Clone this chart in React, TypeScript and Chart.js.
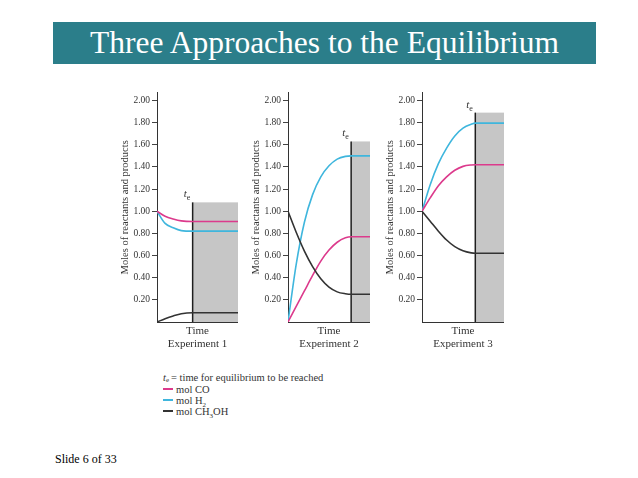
import React, { useEffect, useRef } from 'react';
import { Chart, registerables } from 'chart.js';

Chart.register(...registerables);

const PINK = '#dc3a8c';
const CYAN = '#3fb6dd';
const DARK = '#333333';
const SERIF = '"Liberation Serif", "Times New Roman", serif';

// y tick labels
const yTickValues = [0.2, 0.4, 0.6, 0.8, 1.0, 1.2, 1.4, 1.6, 1.8, 2.0];
const yMax = 2.07;
const timeMax = 10;

// Experiment 1
const exp1Time = [0, 1, 2, 3, 4.4, 10];
const exp1CO = [1.0, 0.955, 0.93, 0.913, 0.907, 0.907];
const exp1H2 = [1.0, 0.89, 0.85, 0.825, 0.82, 0.82];
const exp1CH3OH = [0.0, 0.03, 0.055, 0.075, 0.084, 0.084];
const exp1Te = 4.4;
const exp1ShadeTop = 1.08;

// Experiment 2
const exp2Time = [0, 1, 2, 3, 4, 5, 6, 7, 7.7, 10];
const exp2CO = [0.0, 0.14, 0.28, 0.42, 0.55, 0.65, 0.72, 0.76, 0.77, 0.77];
const exp2H2 = [0.0, 0.52, 0.9, 1.15, 1.31, 1.41, 1.47, 1.495, 1.5, 1.5];
const exp2CH3OH = [1.0, 0.81, 0.64, 0.5, 0.39, 0.315, 0.272, 0.255, 0.25, 0.25];
const exp2Te = 7.7;
const exp2ShadeTop = 1.63;

// Experiment 3
const exp3Time = [0, 1, 2, 3, 4, 5, 6, 6.5, 10];
const exp3CO = [1.0, 1.12, 1.23, 1.31, 1.37, 1.405, 1.418, 1.42, 1.42];
const exp3H2 = [1.0, 1.24, 1.43, 1.57, 1.68, 1.75, 1.785, 1.795, 1.795];
const exp3CH3OH = [1.0, 0.91, 0.82, 0.74, 0.68, 0.643, 0.624, 0.62, 0.62];
const exp3Te = 6.5;
const exp3ShadeTop = 1.89;

const equilPlugin = {
  id: 'equil',
  beforeDatasetsDraw(chart: any, _args: any, opts: any) {
    const { ctx, chartArea, scales } = chart;
    const x = scales.x;
    const y = scales.y;
    const xe = x.getPixelForValue(opts.te);
    const yt = y.getPixelForValue(opts.top);
    const yb = y.getPixelForValue(0);
    ctx.save();
    ctx.fillStyle = '#c6c6c6';
    ctx.fillRect(xe, yt, chartArea.right - xe, yb - yt);
    ctx.strokeStyle = '#1e1e1e';
    ctx.lineWidth = 1.5;
    ctx.beginPath();
    ctx.moveTo(xe, yt);
    ctx.lineTo(xe, yb);
    ctx.stroke();
    ctx.fillStyle = '#333';
    ctx.textAlign = 'left';
    ctx.textBaseline = 'alphabetic';
    ctx.font = 'italic 11px ' + SERIF;
    ctx.fillText('t', xe - 9, yt - 5);
    ctx.font = '8px ' + SERIF;
    ctx.fillText('e', xe - 6, yt - 2);
    ctx.restore();
  },
};

type PanelProps = {
  label: string;
  time: number[];
  co: number[];
  h2: number[];
  ch3oh: number[];
  te: number;
  shadeTop: number;
  left: number;
  plotWidth: number;
};

const Y_SCALE_W = 38;
const X_SCALE_H = 29;

function Panel(p: PanelProps) {
  const ref = useRef<HTMLCanvasElement>(null);
  useEffect(() => {
    if (!ref.current) return;
    const mk = (vals: number[]) => p.time.map((t, i) => ({ x: t, y: vals[i] }));
    const ds = (vals: number[], color: string) => ({
      data: mk(vals),
      borderColor: color,
      borderWidth: 1.6,
      pointRadius: 0,
      cubicInterpolationMode: 'monotone' as const,
      fill: false,
    });
    const chart = new Chart(ref.current, {
      type: 'line',
      data: {
        datasets: [ds(p.ch3oh, DARK), ds(p.co, PINK), ds(p.h2, CYAN)],
      },
      options: {
        animation: false,
        responsive: false,
        maintainAspectRatio: false,
        layout: { padding: { top: 7, left: 0, right: 0, bottom: 0 } },
        plugins: {
          legend: { display: false },
          tooltip: { enabled: false },
          equil: { te: p.te, top: p.shadeTop },
        } as any,
        scales: {
          x: {
            type: 'linear',
            min: 0,
            max: timeMax,
            grid: { display: false, drawTicks: false },
            border: { display: true, color: DARK, width: 1 },
            ticks: { display: false },
            title: {
              display: true,
              text: ['Time', p.label],
              font: { family: SERIF, size: 11 },
              color: '#333',
              padding: 0,
            },
            afterFit: (s: any) => {
              s.height = X_SCALE_H;
            },
          },
          y: {
            type: 'linear',
            min: 0,
            max: yMax,
            afterBuildTicks: (s: any) => {
              s.ticks = yTickValues.map((v) => ({ value: v }));
            },
            ticks: {
              callback: (v: any) => Number(v).toFixed(2),
              font: { family: SERIF, size: 9.5 },
              color: '#333',
              padding: 2,
            },
            grid: { drawOnChartArea: false, tickLength: 5, color: '#444' },
            border: { display: true, color: DARK, width: 1 },
            title: {
              display: true,
              text: 'Moles of reactants and products',
              font: { family: SERIF, size: 10.5 },
              color: '#333',
              padding: 0,
            },
            afterFit: (s: any) => {
              s.width = Y_SCALE_W;
            },
          },
        },
      } as any,
      plugins: [equilPlugin],
    });
    return () => chart.destroy();
  }, []);
  const width = Y_SCALE_W + p.plotWidth;
  const height = 322 - 85 + X_SCALE_H;
  return (
    <canvas
      ref={ref}
      width={width}
      height={height}
      style={{ position: 'absolute', left: p.left - Y_SCALE_W, top: 85, width, height }}
    />
  );
}

const legendRow: React.CSSProperties = {
  position: 'absolute',
  left: 163,
  height: 12,
  display: 'flex',
  alignItems: 'center',
  fontFamily: SERIF,
  fontSize: 10.5,
  color: '#333',
  whiteSpace: 'nowrap',
};

function Swatch({ color }: { color: string }) {
  return <span style={{ display: 'inline-block', width: 10, height: 2, background: color, marginRight: 3 }} />;
}

export default function App() {
  return (
    <div style={{ position: 'absolute', left: 0, top: 0, width: 638, height: 478, background: '#fff', overflow: 'hidden' }}>
      <div
        style={{
          position: 'absolute',
          left: 53,
          top: 22,
          width: 543,
          height: 42,
          background: '#2b7e8a',
          color: '#fff',
          fontFamily: SERIF,
          fontSize: 31.5,
          lineHeight: '42px',
          textAlign: 'center',
          whiteSpace: 'nowrap',
        }}
      >
        Three Approaches to the Equilibrium
      </div>
      <Panel label="Experiment 1" time={exp1Time} co={exp1CO} h2={exp1H2} ch3oh={exp1CH3OH} te={exp1Te} shadeTop={exp1ShadeTop} left={157} plotWidth={81} />
      <Panel label="Experiment 2" time={exp2Time} co={exp2CO} h2={exp2H2} ch3oh={exp2CH3OH} te={exp2Te} shadeTop={exp2ShadeTop} left={288} plotWidth={82} />
      <Panel label="Experiment 3" time={exp3Time} co={exp3CO} h2={exp3H2} ch3oh={exp3CH3OH} te={exp3Te} shadeTop={exp3ShadeTop} left={422} plotWidth={82} />
      <div style={{ ...legendRow, top: 371 }}>
        <span style={{ fontStyle: 'italic' }}>t</span>
        <span style={{ fontSize: 7, position: 'relative', top: 3, marginRight: 2 }}>e</span>
        <span>= time for equilibrium to be reached</span>
      </div>
      <div style={{ ...legendRow, top: 383 }}>
        <Swatch color={PINK} />
        <span>mol CO</span>
      </div>
      <div style={{ ...legendRow, top: 394 }}>
        <Swatch color={CYAN} />
        <span>
          mol H<span style={{ fontSize: 7, position: 'relative', top: 3 }}>2</span>
        </span>
      </div>
      <div style={{ ...legendRow, top: 405 }}>
        <Swatch color={DARK} />
        <span>
          mol CH<span style={{ fontSize: 7, position: 'relative', top: 3 }}>3</span>OH
        </span>
      </div>
      <div style={{ position: 'absolute', left: 55, top: 452, fontFamily: SERIF, fontSize: 12, color: '#000' }}>
        Slide 6 of 33
      </div>
    </div>
  );
}
